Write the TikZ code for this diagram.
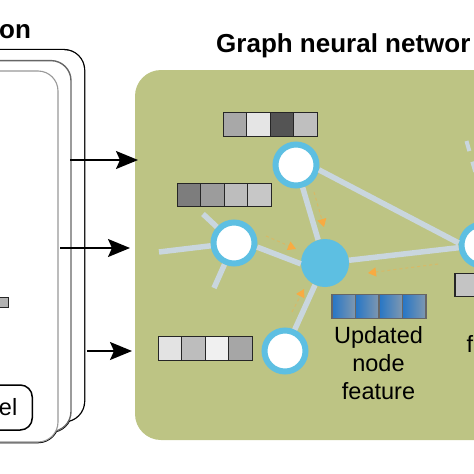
\documentclass[tikz,border=0pt]{standalone}
\usepackage{fontspec}
\setmainfont{Liberation Sans}
\usetikzlibrary{positioning,arrows.meta}

\definecolor{panel}{RGB}{189,196,132}
\definecolor{ring}{RGB}{93,191,226}
\definecolor{linkgray}{RGB}{201,214,222}
\definecolor{flow}{RGB}{248,171,66}
\definecolor{upblue}{RGB}{38,118,198}
\definecolor{upgray}{RGB}{128,152,176}

\begin{document}
\begin{tikzpicture}[x=1pt,y=-1pt,
		every node/.style={font=\fontsize{23.5}{28}\selectfont},
		heading/.style={font=\fontsize{26}{30}\selectfont\bfseries,inner sep=0pt},
		cell/.style={minimum size=23.5pt,outer sep=0pt,inner sep=0pt,draw=black!85,line width=1.3pt,rectangle,node distance=0pt},
		upcell/.style={cell,draw=black!60,left color=upblue,right color=upgray},
		vertex/.style={circle,draw=ring,line width=6pt,fill=white,minimum size=41pt,inner sep=0pt},
		hub/.style={circle,fill=ring,minimum size=48pt,inner sep=0pt},
		spoke/.style={draw=linkgray,line width=5.5pt},
		msg/.style={draw=flow!45!panel,line width=1pt,dashed,-{Triangle[length=8pt,width=9pt,color=flow]}},
		feed/.style={line width=1.8pt,-{Stealth[length=22pt,width=18pt,inset=4pt]}}]
	\useasboundingbox (0,0) rectangle (474,474);
	\clip (0,0) rectangle (474,474);

	% stack of cards
	\foreach \s in {26,13,0}
		\draw[line width=2.6pt,rounded corners=20pt] (-60+\s,71-0.8*\s) rectangle (58+\s,442-0.8*\s);
	\foreach \s in {26,13,0}
		\fill[white,rounded corners=20pt] (-60+\s,71-0.8*\s) rectangle (58+\s,442-0.8*\s);
	\draw[black!60,line width=1.4pt,fill=white,rounded corners=20pt] (-47,60.6) rectangle (71,431.6);
	\draw[black!40,line width=1.1pt,fill=white,rounded corners=20pt] (-60,71) rectangle (58,442);

	\node[cell,minimum size=10pt,line width=0.8pt,fill=black!30] (SQ) at (3,302) {};
	\node[draw,line width=1.5pt,rounded corners=12pt,minimum height=45pt,inner xsep=15pt,anchor=east] (MODEL) at (33,407.5) {el};

	\node[heading,anchor=base west] (LEFT) at (-1,38) {on};
	\node[heading,anchor=base west] (GNN)  at (216,52) {Graph neural networ};

	% panel
	\fill[panel,rounded corners=26pt] (135,70) rectangle (600,440);

	\coordinate (IN1) at (70,160);  \coordinate (OUT1) at (138,160);
	\coordinate (IN2) at (60,248);  \coordinate (OUT2) at (130,248);
	\coordinate (IN3) at (87,351);  \coordinate (OUT3) at (132,351);
	\draw[feed] (IN1) -- (OUT1);
	\draw[feed] (IN2) -- (OUT2);
	\draw[feed] (IN3) -- (OUT3);

	% graph
	\node[vertex] (U1) at (296,165) {};
	\node[vertex] (U2) at (234,243) {};
	\node[hub]    (C)  at (325,263) {};
	\node[vertex] (U3) at (285,351) {};
	\node[vertex] (U4) at (482,245) {};

	\coordinate (S1) at (159,252);
	\coordinate (S2) at (203,214);
	\coordinate (S3) at (214,288);
	\coordinate (D1) at (466.5,141);
	\coordinate (D2) at (477,178);

	\draw[spoke] (U1.-12) -- (U4.175);
	\draw[spoke] (U1) -- (C);
	\draw[spoke] (U2.-10) -- (C.182);
	\draw[spoke] (C) -- (U3);
	\draw[spoke] (C) -- (U4);
	\draw[spoke] (U2) -- (S1);
	\draw[spoke] (U2) -- (S2);
	\draw[spoke] (U2) -- (S3);
	\draw[spoke,line width=4pt,dash pattern=on 10.5pt off 11pt] (D1) -- (D2);

	\coordinate (M1) at (314,192); \coordinate (T1) at (324,227);
	\coordinate (M2) at (266,236); \coordinate (T2) at (296,249);
	\coordinate (M3) at (292,312); \coordinate (T3) at (304,289);
	\coordinate (M4) at (438,264); \coordinate (T4) at (368,273);
	\draw[msg] (M1) -- (T1);
	\draw[msg] (M2) -- (T2);
	\draw[msg] (M3) -- (T3);
	\draw[msg] (M4) -- (T4);

	% features
	\node[cell,fill=black!34] (A1) at (235,124.5) {};
	\node[cell,fill=black!10] (A2) [right=of A1] {};
	\node[cell,fill=black!67] (A3) [right=of A2] {};
	\node[cell,fill=black!25] (A4) [right=of A3] {};

	\node[cell,fill=black!51] (B1) at (189,195) {};
	\node[cell,fill=black!39] (B2) [right=of B1] {};
	\node[cell,fill=black!26] (B3) [right=of B2] {};
	\node[cell,fill=black!22] (B4) [right=of B3] {};

	\node[cell,fill=black!11] (E1) at (170,348.5) {};
	\node[cell,fill=black!26] (E2) [right=of E1] {};
	\node[cell,fill=black!6]  (E3) [right=of E2] {};
	\node[cell,fill=black!35] (E4) [right=of E3] {};

	\node[upcell] (H1) at (343.75,306.5) {};
	\node[upcell] (H2) [right=of H1] {};
	\node[upcell] (H3) [right=of H2] {};
	\node[upcell] (H4) [right=of H3] {};

	\node[cell,fill=black!23] (R1) at (466.75,285) {};

	\node[align=center,anchor=north,inner sep=0pt] (UPD) at (378.5,326) {Updated\\node\\feature};
	\node[anchor=base west,inner sep=0pt] (RF) at (466.5,352) {f};
\end{tikzpicture}
\end{document}
